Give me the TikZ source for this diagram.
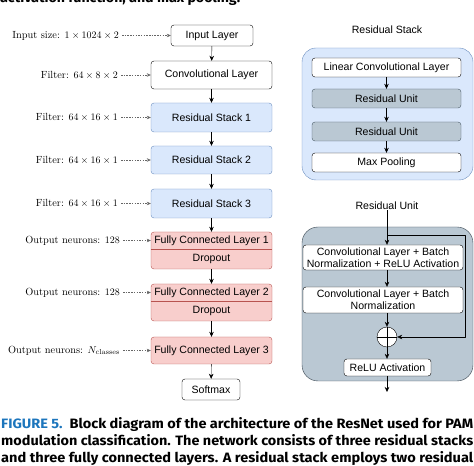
\documentclass[tikz,border=0pt]{standalone}
\usepackage{amsmath}
\usepackage{fontspec}
\usepackage{graphicx}
\newfontfamily\boxfont{Liberation Sans}
\newfontfamily\capfont{Fira Sans}
\usetikzlibrary{arrows.meta}
\definecolor{stackfill}{HTML}{DAE8FC}
\definecolor{stackdraw}{HTML}{6C8EBF}
\definecolor{densefill}{HTML}{F8CECC}
\definecolor{densedraw}{HTML}{B85450}
\definecolor{unitfill}{HTML}{BAC8D3}
\definecolor{unitdraw}{HTML}{5A6E80}
\definecolor{figblue}{HTML}{1C75BC}
\tikzset{
  layerbox/.style={draw=black,fill=white,rounded corners=3bp,inner sep=0pt,
    font=\boxfont\fontsize{10.6}{12.4}\selectfont,align=center},
  stackbox/.style={layerbox,draw=stackdraw,fill=stackfill},
  densebox/.style={layerbox,draw=densedraw,fill=densefill},
  unitbox/.style={layerbox,draw=unitdraw!80!black,fill=unitfill},
  boxtext/.style={inner sep=0pt,font=\boxfont\fontsize{10.6}{12.4}\selectfont},
  sidelabel/.style={anchor=east,inner sep=0pt,font=\fontsize{10.4}{12.5}\selectfont},
  hint/.style={draw=black!60,dashed,dash pattern=on 1.5bp off 1.2bp,-{Stealth[length=4bp,width=3.5bp]}},
  captionline/.style={anchor=base west,inner sep=0pt,font=\capfont\bfseries},
}
\begin{document}
\begin{tikzpicture}[>={Stealth[length=5bp,width=4.5bp]},line join=bevel,]
\useasboundingbox (0bp,0bp) rectangle (474bp,466bp);
\clip (0bp,0bp) rectangle (474bp,466bp);
%%
\node (node_in) at (212bp,430.5bp) [layerbox,minimum width=82bp,minimum height=21bp] {Input Layer};
  \node (node_conv) at (211.5bp,391bp) [layerbox,minimum width=121bp,minimum height=28bp] {Convolutional Layer};
  \node (node_rs1) at (211.5bp,348.5bp) [stackbox,minimum width=121bp,minimum height=29bp] {Residual Stack 1};
  \node (node_rs2) at (211.5bp,306bp) [stackbox,minimum width=121bp,minimum height=28bp] {Residual Stack 2};
  \node (node_rs3) at (211.5bp,262.5bp) [stackbox,minimum width=121bp,minimum height=29bp] {Residual Stack 3};
  \node (node_fc1) at (211.5bp,215.5bp) [densebox,minimum width=121bp,minimum height=37bp] {};
  \node (node_fc1a) at (211.5bp,225.5bp) [boxtext] {Fully Connected Layer 1};
  \node (node_fc1b) at (211.5bp,207bp) [boxtext] {Dropout};
  \node (node_fc2) at (211.5bp,163.5bp) [densebox,minimum width=121bp,minimum height=37bp] {};
  \node (node_fc2a) at (211.5bp,173.5bp) [boxtext] {Fully Connected Layer 2};
  \node (node_fc2b) at (211.5bp,155bp) [boxtext] {Dropout};
  \node (node_fc3) at (211.5bp,115.5bp) [densebox,minimum width=121bp,minimum height=27bp] {Fully Connected Layer 3};
  \node (node_soft) at (211bp,76.5bp) [layerbox,minimum width=58bp,minimum height=21bp] {Softmax};
  \draw [densedraw] (node_fc1.west |- 0,217bp) -- (node_fc1.east |- 0,217bp);
  \draw [densedraw] (node_fc2.west |- 0,165bp) -- (node_fc2.east |- 0,165bp);
  \draw [black,->] (node_in) -- (node_conv);
  \draw [black,->] (node_conv) -- (node_rs1);
  \draw [black,->] (node_rs1) -- (node_rs2);
  \draw [black,->] (node_rs2) -- (node_rs3);
  \draw [black,->] (node_rs3) -- (node_fc1);
  \draw [black,->] (node_fc1) -- (node_fc2);
  \draw [black,->] (node_fc2) -- (node_fc3);
  \draw [black,->] (node_fc3) -- (node_soft);
%
\node (lbl_in) at (119bp,430.5bp) [sidelabel] {Input size: $1\times 1024\times 2$};
  \node (lbl_conv) at (118bp,391bp) [sidelabel] {Filter: $64\times 8\times 2$};
  \node (lbl_rs1) at (118bp,348.5bp) [sidelabel] {Filter: $64\times 16\times 1$};
  \node (lbl_rs2) at (118bp,306bp) [sidelabel] {Filter: $64\times 16\times 1$};
  \node (lbl_rs3) at (118bp,262.5bp) [sidelabel] {Filter: $64\times 16\times 1$};
  \node (lbl_fc1) at (120bp,225.5bp) [sidelabel] {Output neurons: $128$};
  \node (lbl_fc2) at (120bp,173.5bp) [sidelabel] {Output neurons: $128$};
  \node (lbl_fc3) at (120bp,115.5bp) [sidelabel] {Output neurons: $N_{\text{classes}}$};
  \draw [hint] ([xshift=3bp]lbl_in.east) -- (node_in.west |- lbl_in);
  \draw [hint] ([xshift=3bp]lbl_conv.east) -- (node_conv.west |- lbl_conv);
  \draw [hint] ([xshift=3bp]lbl_rs1.east) -- (node_rs1.west |- lbl_rs1);
  \draw [hint] ([xshift=3bp]lbl_rs2.east) -- (node_rs2.west |- lbl_rs2);
  \draw [hint] ([xshift=3bp]lbl_rs3.east) -- (node_rs3.west |- lbl_rs3);
  \draw [hint] ([xshift=3bp]lbl_fc1.east) -- (node_fc1.west |- lbl_fc1);
  \draw [hint] ([xshift=3bp]lbl_fc2.east) -- (node_fc2.west |- lbl_fc2);
  \draw [hint] ([xshift=3bp]lbl_fc3.east) -- (node_fc3.west |- lbl_fc3);
%% residual stack
\node (stack_title) at (387bp,436bp) [boxtext] {Residual Stack};
  \node (stack_box) at (387.5bp,352bp) [stackbox,rounded corners=14bp,minimum width=171bp,minimum height=132bp] {};
  \node (stack_lin) at (386.5bp,398.5bp) [layerbox,minimum width=149bp,minimum height=19bp] {Linear Convolutional Layer};
  \node (stack_ru1) at (386.5bp,367.5bp) [unitbox,minimum width=149bp,minimum height=19bp] {Residual Unit};
  \node (stack_ru2) at (386.5bp,334.5bp) [unitbox,minimum width=149bp,minimum height=19bp] {Residual Unit};
  \node (stack_pool) at (386.5bp,303.5bp) [layerbox,minimum width=149bp,minimum height=19bp] {Max Pooling};
  \draw [black,->] (stack_lin) -- (stack_ru1);
  \draw [black,->] (stack_ru1) -- (stack_ru2);
  \draw [black,->] (stack_ru2) -- (stack_pool);
%% residual unit
\node (unit_title) at (387bp,260bp) [boxtext] {Residual Unit};
  \node (unit_box) at (387.5bp,162bp) [unitbox,draw=unitdraw!60!black,rounded corners=16bp,minimum width=171bp,minimum height=154bp] {};
  \node (unit_conv1) at (383bp,208.5bp) [layerbox,minimum width=160bp,minimum height=25bp] {Convolutional Layer + Batch\\Normalization + ReLU Activation};
  \node (unit_conv2) at (383bp,166bp) [layerbox,minimum width=160bp,minimum height=26bp] {Convolutional Layer + Batch\\Normalization};
  \node (unit_sum) at (387bp,129bp) [draw=black,fill=white,circle,minimum size=20bp,inner sep=0pt] {};
  \draw [black] (unit_sum.north) -- (unit_sum.south) (unit_sum.west) -- (unit_sum.east);
  \node (unit_relu) at (387.5bp,98.5bp) [layerbox,minimum width=87bp,minimum height=17bp] {ReLU Activation};
  \coordinate (unit_split) at (387bp,231bp);
  \coordinate (unit_out) at (387bp,74bp);
  \draw [black,->] (unit_title) -- (unit_title |- unit_conv1.north);
  \draw [black,->] (unit_title |- unit_conv1.south) -- (unit_title |- unit_conv2.north);
  \draw [black,->] (unit_title |- unit_conv2.south) -- (unit_sum);
  \draw [black,->] (unit_sum) -- (unit_title |- unit_relu.north);
  \draw [black,->] (unit_title |- unit_relu.south) -- (unit_out);
  \draw [black,->] (unit_split) -- (465bp,231bp) -- (465bp,129bp) -- (unit_sum);
%% caption
\node (cap_0) at (0bp,463bp) [captionline] {\resizebox{240bp}{11bp}{activation function, and max pooling.}};
  \node (cap_1) at (1bp,37bp) [captionline] {\resizebox{472bp}{11bp}{\textcolor{figblue}{FIGURE 5.}\ \ Block diagram of the architecture of the ResNet used for PAM}};
  \node (cap_2) at (1bp,20bp) [captionline] {\resizebox{472bp}{11bp}{modulation classification. The network consists of three residual stacks}};
  \node (cap_3) at (1bp,3bp) [captionline] {\resizebox{472bp}{11bp}{and three fully connected layers. A residual stack employs two residual}};
%
\end{tikzpicture}
\end{document}
